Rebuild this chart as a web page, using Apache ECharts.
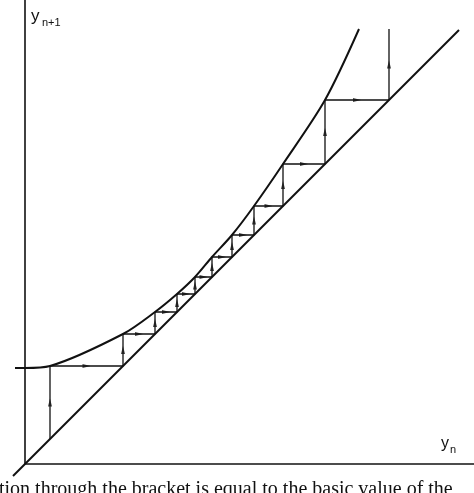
<!DOCTYPE html>
<html>
<head>
<meta charset="utf-8">
<script src="https://cdn.jsdelivr.net/npm/echarts@6/dist/echarts.min.js"></script>
<style>html,body{margin:0;padding:0;background:#fff;}#c{width:474px;height:493px;}</style>
</head>
<body>
<div id="c"></div>
<script>
// Curve y_{n+1} = f(y_n) (data units = pixels from origin)
const curveX = [-10, 0, 25, 98, 130, 152, 170, 187, 207, 229, 258, 300, 334];
const curveY = [96, 96, 98, 130, 152, 170, 187, 207, 229, 258, 300, 364, 435];
// Bisector y_{n+1} = y_n
const diagX = [-12, 434];
const diagY = [-12, 434];
// Iterates of the staircase
const iterates = [25, 98, 130, 152, 170, 187, 207, 229, 258, 300, 364];
const lastTop = 435;
// Axes extents
const axisXEnd = 449;
const axisYEnd = 464;
const xLabel = 'y';
const xSub = 'n';
const yLabel = 'y';
const ySub = 'n+1';
const caption = 'tion through the bracket is equal to the basic value of the';

const curve = curveX.map((x, i) => [x, curveY[i]]);
const diag = diagX.map((x, i) => [x, diagY[i]]);
const stair = [];
const arrowsUp = [];
const arrowsRight = [];
for (let i = 0; i < iterates.length; i++) {
  const a = iterates[i];
  const b = i + 1 < iterates.length ? iterates[i + 1] : lastTop;
  stair.push([a, a]);
  stair.push([a, b]);
  arrowsUp.push([a, (a + b) / 2]);
  if (i + 1 < iterates.length) {
    arrowsRight.push([(a + b) / 2, b]);
  }
}
const col = '#111';
const chart = echarts.init(document.getElementById('c'));
chart.setOption({
  animation: false,
  backgroundColor: '#fff',
  grid: { left: 0, right: 0, top: 0, bottom: 0 },
  xAxis: { type: 'value', min: -25, max: 449, show: false },
  yAxis: { type: 'value', min: -29, max: 464, show: false },
  series: [
    { type: 'line', data: [[0, 0], [axisXEnd, 0]], symbol: 'none', lineStyle: { color: col, width: 1.6 } },
    { type: 'line', data: [[0, 0], [0, axisYEnd]], symbol: 'none', lineStyle: { color: col, width: 1.6 } },
    { type: 'line', data: diag, symbol: 'none', lineStyle: { color: col, width: 2 } },
    { type: 'line', data: curve, symbol: 'none', smooth: 0.3, lineStyle: { color: col, width: 2 } },
    { type: 'line', data: stair, symbol: 'none', lineStyle: { color: col, width: 1.3 } },
    { type: 'scatter', data: arrowsUp, symbol: 'triangle', symbolSize: [4, 8], itemStyle: { color: col } },
    { type: 'scatter', data: arrowsRight, symbol: 'triangle', symbolSize: [4, 8], symbolRotate: -90, itemStyle: { color: col } }
  ],
  graphic: [
    { type: 'text', left: 31, top: 8, style: { text: yLabel, font: '17px "Liberation Sans"', fill: col } },
    { type: 'text', left: 42, top: 17, style: { text: ySub, font: '11px "Liberation Sans"', fill: col } },
    { type: 'text', left: 441, top: 436, style: { text: xLabel, font: '16px "Liberation Sans"', fill: col } },
    { type: 'text', left: 450, top: 444, style: { text: xSub, font: '11px "Liberation Sans"', fill: col } },
    { type: 'text', left: -1, top: 480, style: { text: caption, font: '20px "Liberation Serif"', fill: col } }
  ]
});
</script>
</body>
</html>
